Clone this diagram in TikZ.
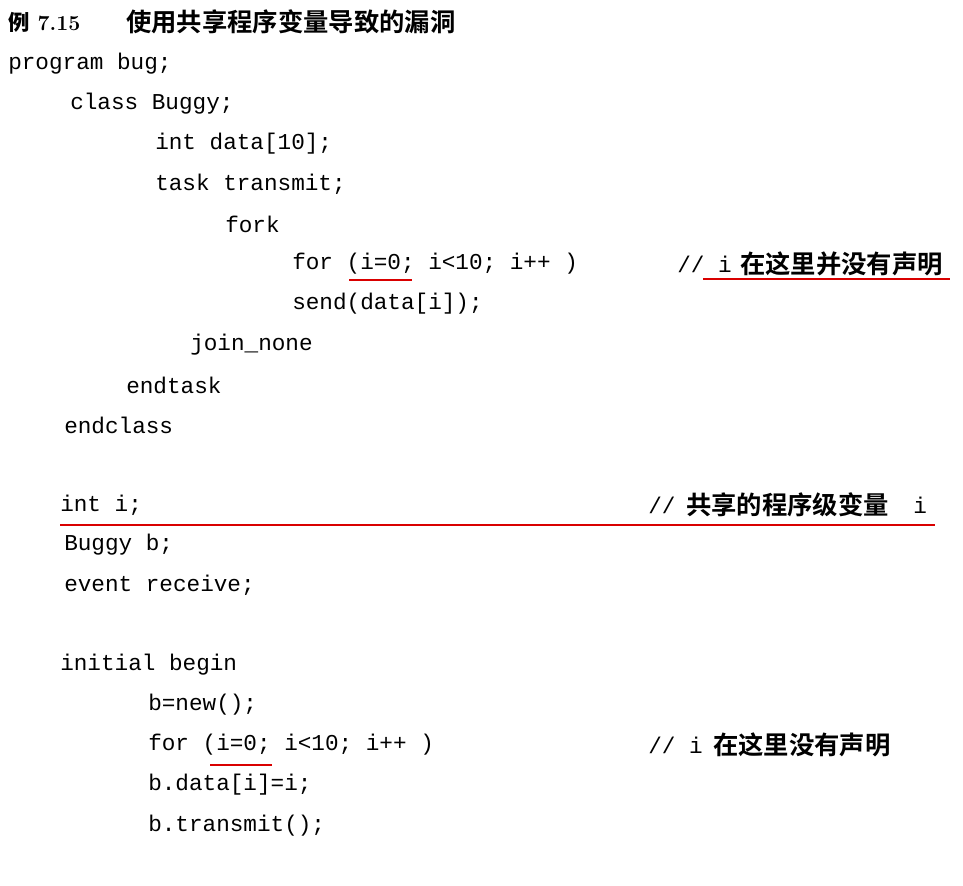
\documentclass[tikz,border=0pt]{standalone}
\usepackage{fontspec}
\setmonofont{Liberation Mono}
\newfontfamily\cjk{Noto Sans CJK SC}
\newfontfamily\cjkb{Noto Sans CJK SC Bold}
\begin{document}
\begin{tikzpicture}[x=0.75pt,y=-0.75pt,
  code/.style={anchor=west,inner sep=0pt,font=\ttfamily\fontsize{17}{20}\selectfont},
  cj/.style={anchor=west,inner sep=0pt,font=\cjkb\fontsize{19}{22}\selectfont},
  redline/.style={draw=red!85!black,line width=1.3pt}]
\useasboundingbox (0,0) rectangle (963,885);
\node[anchor=west,inner sep=0pt,font=\bfseries\fontsize{16}{18}\selectfont] (t1) at (8,22) {{\cjkb 例} 7.15};
\node[cj] (t2) at (126,22) {使用共享程序变量导致的漏洞};
\node[code] (l1) at (8,64) {program bug;};
\node[code] (l2) at (70,104) {class Buggy;};
\node[code] (l3) at (155,144) {int data[10];};
\node[code] (l4) at (155,184) {task transmit;};
\node[code] (l5) at (225,224) {fork};
\node[code] (l6) at (292,264) {for (i=0; i<10; i++ )};
\node[code] (l7) at (292,304) {send(data[i]);};
\node[code] (l8) at (190,345) {join\_none};
\node[code] (l9) at (126,385) {endtask};
\node[code] (l10) at (64,425) {endclass};
\node[code] (l11) at (60,505) {int i;};
\node[code] (l12) at (64,545) {Buggy b;};
\node[code] (l13) at (64,585) {event receive;};
\node[code] (l14) at (60,665) {initial begin};
\node[code] (l15) at (148,705) {b=new();};
\node[code] (l16) at (148,745) {for (i=0; i<10; i++ )};
\node[code] (l17) at (148,785) {b.data[i]=i;};
\node[code] (l18) at (148,826) {b.transmit();};
\node[code] (c1a) at (677,264) {// i};
\node[cj] (c1b) at (740,264) {在这里并没有声明};
\node[code] (c2a) at (648,505) {//};
\node[cj] (c2b) at (686,505) {共享的程序级变量};
\node[code] (c2c) at (913,505) {i};
\node[code] (c3a) at (648,745) {// i};
\node[cj] (c3b) at (713,745) {在这里没有声明};
\draw[redline] (349,280) -- (412,280);
\draw[redline] (703,279) -- (950,279);
\draw[redline] (60,525) -- (935,525);
\draw[redline] (210,765) -- (272,765);
\end{tikzpicture}
\end{document}
